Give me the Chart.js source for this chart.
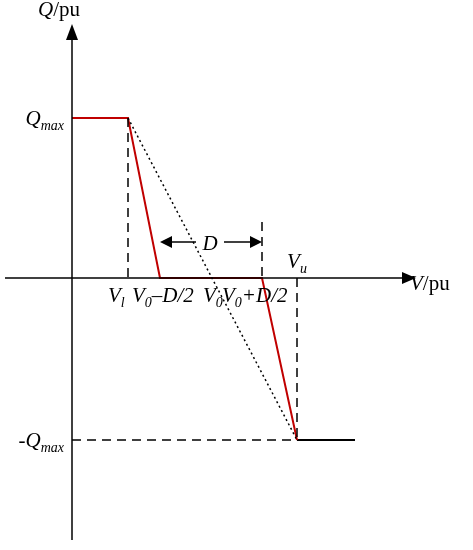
<!DOCTYPE html><html><head><style>html,body{margin:0;background:#fff}</style>
<script src="https://cdn.jsdelivr.net/npm/chart.js@4"></script></head><body>
<canvas id="c" width="473" height="550"></canvas>
<script>
// Characteristic values (V relative to origin, Q in same units)
const Vl = 56, VlowD = 88, V0 = 139, VhighD = 190, Vu = 225, Vend = 283;
const Qmax = 160, Qmin = -162;
const redX = [0, Vl, VlowD, VhighD, Vu];
const redY = [Qmax, Qmax, 0, 0, Qmin];
const tailX = [Vu, Vend], tailY = [Qmin, Qmin];
const pts=(xs,ys)=>xs.map((x,i)=>({x,y:ys[i]}));
const blk='#000';
const datasets=[
 {data:pts([-67,330],[0,0]),borderColor:blk,borderWidth:1.5},
 {data:pts([0,0],[-262,238]),borderColor:blk,borderWidth:1.5},
 {data:pts([Vl,Vl],[Qmax,0]),borderColor:blk,borderWidth:1.5,borderDash:[9,6]},
 {data:pts([VhighD,VhighD],[56,0]),borderColor:blk,borderWidth:1.5,borderDash:[9,6]},
 {data:pts([Vu,Vu],[0,Qmin]),borderColor:blk,borderWidth:1.5,borderDash:[9,6]},
 {data:pts([0,Vu],[Qmin,Qmin]),borderColor:blk,borderWidth:1.5,borderDash:[9,6]},
 {data:pts([Vl,Vu],[Qmax,Qmin]),borderColor:blk,borderWidth:1.5,borderDash:[2,3]},
 {data:pts([VlowD+3,VhighD-3],[36,36]),borderColor:blk,borderWidth:1.5},
 {data:pts(redX,redY),borderColor:'#c00000',borderWidth:2},
 {data:pts(tailX,tailY),borderColor:blk,borderWidth:2},
];
function txt(ctx,x,y,parts,align){
  ctx.textBaseline='alphabetic';
  let w=0;parts.forEach(p=>{ctx.font=(p.s?'italic 14px':'italic 21px')+' "Liberation Serif"';w+=ctx.measureText(p.t).width;});
  let cx=align==='right'?x-w:align==='center'?x-w/2:x;
  parts.forEach(p=>{ctx.font=((p.s?'italic 14px':(p.n?'21px':'italic 21px')))+' "Liberation Serif"';ctx.fillText(p.t,cx,y+(p.s?5:0));cx+=ctx.measureText(p.t).width;});
}
const deco={id:'deco',afterDatasetsDraw(ch){
  const c=ch.ctx,xs=ch.scales.x,ys=ch.scales.y;const X=v=>xs.getPixelForValue(v),Y=v=>ys.getPixelForValue(v);
  c.save();c.fillStyle='#000';
  const tri=(a,b,cc)=>{c.beginPath();c.moveTo(...a);c.lineTo(...b);c.lineTo(...cc);c.closePath();c.fill();};
  let ax=X(330),ay=Y(0);tri([ax+14,ay],[ax,ay-6],[ax,ay+6]);
  let bx=X(0),by=Y(238);tri([bx,by-16],[bx-6,by],[bx+6,by]);
  let dy=Y(36);tri([X(VlowD),dy],[X(VlowD)+12,dy-6],[X(VlowD)+12,dy+6]);
  tri([X(VhighD),dy],[X(VhighD)-12,dy-6],[X(VhighD)-12,dy+6]);
  c.fillStyle='#fff';c.fillRect(X(VlowD+50)-14,dy-4,28,8);c.fillStyle='#000';
  txt(c,X(-34),Y(262),[{t:'Q'},{t:'/pu',n:1}],'left');
  txt(c,X(338),Y(-12),[{t:'V'},{t:'/pu',n:1}],'left');
  txt(c,X(-8),Y(Qmax)+7,[{t:'Q'},{t:'max',s:1}],'right');
  txt(c,X(-8),Y(Qmin)+7,[{t:'-Q'},{t:'max',s:1}],'right');
  txt(c,X(VlowD+50),dy+8,[{t:'D'}],'center');
  txt(c,X(Vu),Y(10),[{t:'V'},{t:'u',s:1}],'center');
  const ly=Y(-24);
  txt(c,X(Vl-20),ly,[{t:'V'},{t:'l',s:1}],'left');
  txt(c,X(Vl+4),ly,[{t:'V'},{t:'0',s:1},{t:'–D/2'}],'left');
  txt(c,X(V0-8),ly,[{t:'V'},{t:'0',s:1}],'left');
  txt(c,X(V0+11),ly,[{t:'V'},{t:'0',s:1},{t:'+D/2'}],'left');
  c.restore();}};
new Chart(document.getElementById('c'),{type:'line',data:{datasets},
 options:{responsive:false,animation:false,layout:{padding:0},
  elements:{point:{radius:0},line:{tension:0}},
  plugins:{legend:{display:false},tooltip:{enabled:false}},
  scales:{x:{type:'linear',min:-72,max:401,display:false},y:{type:'linear',min:-272,max:278,display:false}}},
 plugins:[deco]});
</script></body></html>
